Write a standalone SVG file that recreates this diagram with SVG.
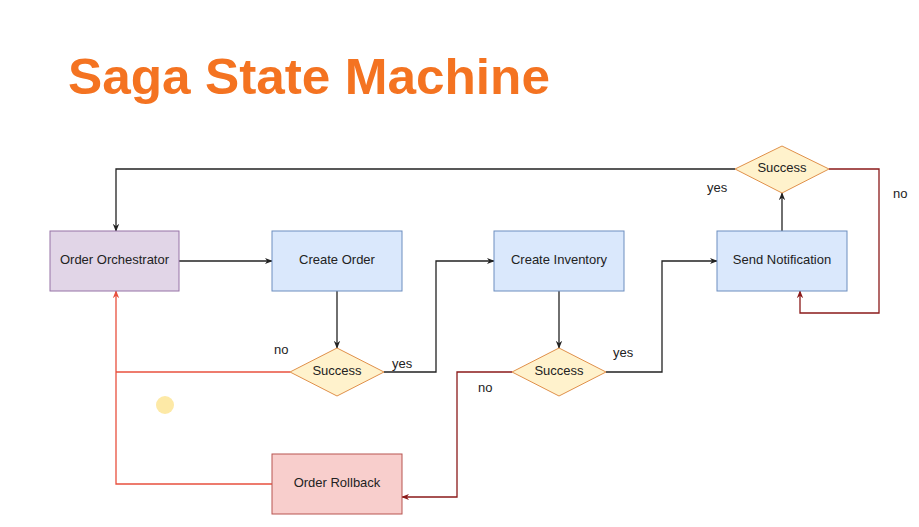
<svg xmlns="http://www.w3.org/2000/svg" width="919" height="527" viewBox="0 0 919 527">
<style>
text{font-family:"Liberation Sans",Arial,sans-serif;font-size:13px;fill:#222}
.n text{text-anchor:middle;dominant-baseline:middle}
.blue{fill:#dae8fc;stroke:#6c8ebf}
.dia{fill:#fff2cc;stroke:#e0904a}
.e{fill:none;stroke-width:1.3}
.k{stroke:#222}.r{stroke:#e8503e}.d{stroke:#8b1a1a}
</style>
<defs>
<marker id="ak" viewBox="0 0 10 10" refX="9" refY="5" markerWidth="8" markerHeight="8" orient="auto" markerUnits="userSpaceOnUse"><path d="M0,1L10,5L0,9L3,5z" fill="#222"/></marker>
<marker id="ar" viewBox="0 0 10 10" refX="9" refY="5" markerWidth="8" markerHeight="8" orient="auto" markerUnits="userSpaceOnUse"><path d="M0,1L10,5L0,9L3,5z" fill="#e8503e"/></marker>
<marker id="ad" viewBox="0 0 10 10" refX="9" refY="5" markerWidth="8" markerHeight="8" orient="auto" markerUnits="userSpaceOnUse"><path d="M0,1L10,5L0,9L3,5z" fill="#8b1a1a"/></marker>
</defs>
<rect width="919" height="527" fill="#fff"/>
<text x="68" y="94" textLength="482" lengthAdjust="spacingAndGlyphs" style="font-size:50px;font-weight:bold;fill:#f47321">Saga State Machine</text>
<circle cx="165" cy="405" r="9" fill="#fde9a6"/>
<g id="connectors">
<path class="e k" d="M179,261H272" marker-end="url(#ak)"/>
<path class="e k" d="M337,291V348" marker-end="url(#ak)"/>
<path class="e k" d="M384,372H436V261H494" marker-end="url(#ak)"/>
<path class="e r" d="M290,372H116"/>
<path class="e r" d="M272,484H116V291" marker-end="url(#ar)"/>
<path class="e k" d="M559,291V348" marker-end="url(#ak)"/>
<path class="e k" d="M606,372H662V261H717" marker-end="url(#ak)"/>
<path class="e d" d="M512,372H457V497H402" marker-end="url(#ad)"/>
<path class="e k" d="M782,231V193" marker-end="url(#ak)"/>
<path class="e k" d="M735,169H116V231" marker-end="url(#ak)"/>
<path class="e d" d="M829,169H879V313H800V291" marker-end="url(#ad)"/>
<text x="392" y="368">yes</text>
<text x="274" y="354">no</text>
<text x="613" y="357">yes</text>
<text x="478" y="392">no</text>
<text x="707" y="192">yes</text>
<text x="893" y="198">no</text>
</g>
<g id="orchestrator" class="n"><rect x="50" y="231" width="129" height="60" fill="#e1d5e7" stroke="#9673a6"/><text x="114.5" y="261">Order Orchestrator</text></g>
<g id="createOrder" class="n"><rect class="blue" x="272" y="231" width="130" height="60"/><text x="337" y="261">Create Order</text></g>
<g id="createInventory" class="n"><rect class="blue" x="494" y="231" width="130" height="60"/><text x="559" y="261">Create Inventory</text></g>
<g id="sendNotification" class="n"><rect class="blue" x="717" y="231" width="130" height="60"/><text x="782" y="261">Send Notification</text></g>
<g id="rollback" class="n"><rect x="272" y="454" width="130" height="60" fill="#f8cecc" stroke="#b85450"/><text x="337" y="484">Order Rollback</text></g>
<g id="success1" class="n"><path class="dia" d="M337,348L384,372L337,396L290,372z"/><text x="337" y="372">Success</text></g>
<g id="success2" class="n"><path class="dia" d="M559,348L606,372L559,396L512,372z"/><text x="559" y="372">Success</text></g>
<g id="success3" class="n"><path class="dia" d="M782,146L829,169L782,193L735,169z"/><text x="782" y="169">Success</text></g>
</svg>
